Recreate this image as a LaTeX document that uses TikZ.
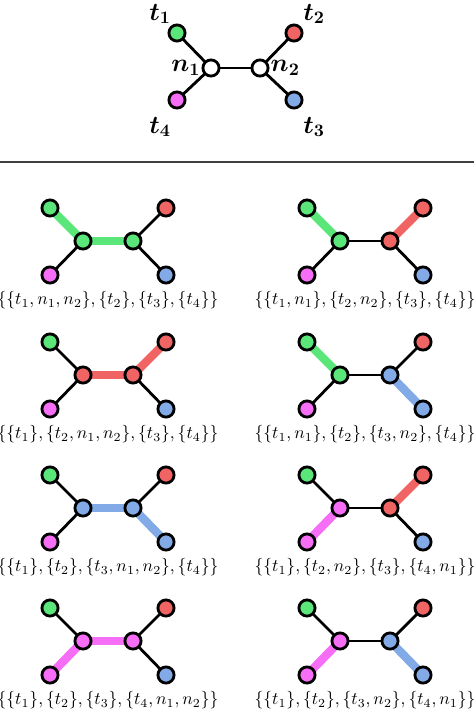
\documentclass[tikz,border=0pt]{standalone}
\usepackage{amsmath}
\usepackage{amssymb}
\usetikzlibrary{backgrounds}
\definecolor{tgreen}{HTML}{5AE678}
\definecolor{tred}{HTML}{F06464}
\definecolor{tblue}{HTML}{82AAE6}
\definecolor{tpink}{HTML}{F56EF5}
\tikzset{
    vertex/.style={circle, draw, line width=1.6pt, minimum size=9.2pt, inner sep=0pt},
    branch/.style={line width=1.6pt},
    group/.style={line width=4.8pt},
    tlabel/.style={font=\Large\boldmath},
    plabel/.style={font=\fontsize{9.6}{11}\selectfont}
}
\newcommand{\treeedge}[4]{
    \def\edgecola{#3}\def\edgecolb{#4}
    \ifx\edgecola\edgecolb
        \draw[group, draw=#3] (#1.center) -- (#2.center);
    \else
        \draw[branch] (#1.center) -- (#2.center);
    \fi
}
\newcommand{\drawtree}[9]{
    \begin{scope}[shift={#2}]
        \node[vertex, fill=#3] (#1t1) at (0, 0) {};
        \node[vertex, fill=#4] (#1t2) at (116, 0) {};
        \node[vertex, fill=#5] (#1t3) at (116, 67) {};
        \node[vertex, fill=#6] (#1t4) at (0, 67) {};
        \node[vertex, fill=#7] (#1n1) at (33, 33) {};
        \node[vertex, fill=#8] (#1n2) at (83, 33) {};
        \node[plabel] (#1lbl) at (58, 92) {$#9$};
    \end{scope}
    \begin{pgfonlayer}{background}
        \treeedge{#1t1}{#1n1}{#3}{#7}
        \treeedge{#1t4}{#1n1}{#6}{#7}
        \treeedge{#1t2}{#1n2}{#4}{#8}
        \treeedge{#1t3}{#1n2}{#5}{#8}
        \treeedge{#1n1}{#1n2}{#7}{#8}
    \end{pgfonlayer}
}

\begin{document}
\begin{tikzpicture}[x=0.02cm, y=-0.02cm]
    \useasboundingbox (0, 0) rectangle (474, 710);
    % full tree
    \node[vertex, fill=tgreen] (t1) at (177, 33) {};
    \node[vertex, fill=tred] (t2) at (294, 33) {};
    \node[vertex, fill=tblue] (t3) at (294, 100) {};
    \node[vertex, fill=tpink] (t4) at (177, 100) {};
    \node[vertex, fill=white] (n1) at (211, 68) {};
    \node[vertex, fill=white] (n2) at (260, 68) {};
    \begin{pgfonlayer}{background}
        \draw[branch] (t1.center) -- (n1.center) -- (t4.center);
        \draw[branch] (t2.center) -- (n2.center) -- (t3.center);
        \draw[branch] (n1.center) -- (n2.center);
    \end{pgfonlayer}
    \node[tlabel] (l1) at (160, 14) {$t_1$};
    \node[tlabel] (l2) at (314, 14) {$t_2$};
    \node[tlabel] (l3) at (314, 127) {$t_3$};
    \node[tlabel] (l4) at (160, 127) {$t_4$};
    \node[tlabel, anchor=east, inner sep=0.5pt] (ln1) at (n1.west) {$n_1$};
    \node[tlabel, anchor=west, inner sep=0.5pt] (ln2) at (n2.east) {$n_2$};
    \draw[line width=0.6pt, black!75] (0, 162) -- (474, 162);
    % partitions
    \drawtree{a}{(50, 208)}{tgreen}{tred}{tblue}{tpink}{tgreen}{tgreen}{\{\{t_1, n_1, n_2\}, \{t_2\}, \{t_3\}, \{t_4\}\}}
    \drawtree{b}{(307, 208)}{tgreen}{tred}{tblue}{tpink}{tgreen}{tred}{\{\{t_1, n_1\}, \{t_2, n_2\}, \{t_3\}, \{t_4\}\}}
    \drawtree{c}{(50, 342)}{tgreen}{tred}{tblue}{tpink}{tred}{tred}{\{\{t_1\}, \{t_2, n_1, n_2\}, \{t_3\}, \{t_4\}\}}
    \drawtree{d}{(307, 342)}{tgreen}{tred}{tblue}{tpink}{tgreen}{tblue}{\{\{t_1, n_1\}, \{t_2\}, \{t_3, n_2\}, \{t_4\}\}}
    \drawtree{e}{(50, 475)}{tgreen}{tred}{tblue}{tpink}{tblue}{tblue}{\{\{t_1\}, \{t_2\}, \{t_3, n_1, n_2\}, \{t_4\}\}}
    \drawtree{f}{(307, 475)}{tgreen}{tred}{tblue}{tpink}{tpink}{tred}{\{\{t_1\}, \{t_2, n_2\}, \{t_3\}, \{t_4, n_1\}\}}
    \drawtree{g}{(50, 608)}{tgreen}{tred}{tblue}{tpink}{tpink}{tpink}{\{\{t_1\}, \{t_2\}, \{t_3\}, \{t_4, n_1, n_2\}\}}
    \drawtree{h}{(307, 608)}{tgreen}{tred}{tblue}{tpink}{tpink}{tblue}{\{\{t_1\}, \{t_2\}, \{t_3, n_2\}, \{t_4, n_1\}\}}
\end{tikzpicture}
\end{document}
